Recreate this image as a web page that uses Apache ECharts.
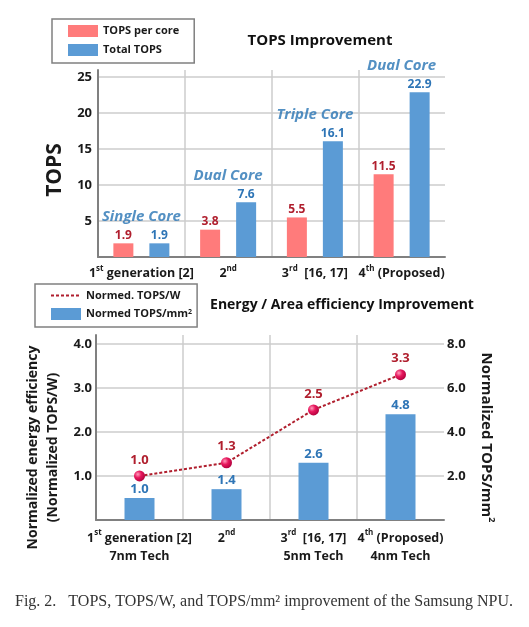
<!DOCTYPE html>
<html><head><meta charset="utf-8">
<script src="https://cdn.jsdelivr.net/npm/echarts@6/dist/echarts.min.js"></script>
<style>html,body{margin:0;padding:0;background:#fff}#c{width:529px;height:627px}</style>
</head><body><div id="c"></div>
<script>
// ---- data ----
const generations = ['1st generation [2]', '2nd', '3rd  [16, 17]', '4th (Proposed)'];
const techNodes = ['7nm Tech', '', '5nm Tech', '4nm Tech'];
const topsPerCore = [1.9, 3.8, 5.5, 11.5];
const totalTops = [1.9, 7.6, 16.1, 22.9];
const coreConfig = ['Single Core', 'Dual Core', 'Triple Core', 'Dual Core'];
const normTopsPerW = [1.0, 1.3, 2.5, 3.3];
const normTopsPerMm2 = [1.0, 1.4, 2.6, 4.8];
const topsAxis = { min: 0, max: 26, interval: 5 };
const effAxis = { min: 0, max: 4.2, interval: 1 };
const areaAxis = { min: 0, max: 8.4, interval: 2 };

// ---- style ----
const FONT = '"Open Sans", "Noto Sans", sans-serif';
const RED = '#ff7b7b', BLUE = '#5b9bd5', RED_T = '#b01f2e', BLUE_T = '#2e75b6';
const GRID = '#cccccc', AXIS = '#808080', TXT = '#1a1a1a';
const supFmt = s => s.replace(/^(\d)(st|nd|rd|th)/, '$1{sup|$2}');
const supRich = { sup: { fontSize: 8, fontWeight: 'bold', color: TXT, verticalAlign: 'top', fontFamily: FONT } };

const chart = echarts.init(document.getElementById('c'));
const vLine = { show: true, interval: 0, showMinLine: false, showMaxLine: false, lineStyle: { color: GRID, width: 1.5 } };
const hLine = { show: true, showMinLine: false, showMaxLine: false, lineStyle: { color: GRID, width: 1.5 } };
const xCommon = {
  type: 'category', data: generations,
  axisLine: { lineStyle: { color: AXIS, width: 2 } },
  axisTick: { show: false },
  splitLine: vLine
};
const yLabel = { fontSize: 13, fontWeight: 'bold', color: TXT, fontFamily: FONT, showMinLabel: false, showMaxLabel: false };

chart.setOption({
  animation: false,
  textStyle: { fontFamily: FONT },
  grid: [
    { left: 98, right: 84, top: 70, bottom: 370 },
    { left: 96, right: 85, top: 335, bottom: 107 }
  ],
  xAxis: [
    Object.assign({}, xCommon, { gridIndex: 0,
      axisLabel: { interval: 0, hideOverlap: false, margin: 8, fontSize: 12.5, fontWeight: 'bold', color: TXT, lineHeight: 16, fontFamily: FONT,
        formatter: v => supFmt(v), rich: supRich } }),
    Object.assign({}, xCommon, { gridIndex: 1,
      axisLabel: { interval: 0, hideOverlap: false, margin: 9, fontSize: 12.5, fontWeight: 'bold', color: TXT, lineHeight: 18, fontFamily: FONT,
        formatter: (v, i) => supFmt(v) + (techNodes[i] ? '\n' + techNodes[i] : ''), rich: supRich } })
  ],
  yAxis: [
    Object.assign({ gridIndex: 0, type: 'value' }, topsAxis, {
      axisLine: { show: true, lineStyle: { color: AXIS, width: 2 } }, axisTick: { show: false },
      axisLabel: Object.assign({ margin: 6 }, yLabel),
      splitLine: hLine,
      name: 'TOPS', nameLocation: 'middle', nameGap: 32,
      nameTextStyle: { fontSize: 21, fontWeight: 'bold', color: TXT, fontFamily: FONT, padding: [0, 13, 0, 0] }
    }),
    Object.assign({ gridIndex: 1, type: 'value' }, effAxis, {
      axisLine: { show: true, lineStyle: { color: AXIS, width: 2 } }, axisTick: { show: false },
      axisLabel: Object.assign({ margin: 4, formatter: v => v.toFixed(1) }, yLabel),
      splitLine: hLine,
      name: 'Normalized energy efficiency\n(Normalized TOPS/W)', nameLocation: 'middle', nameGap: 22,
      nameTextStyle: { fontSize: 14, fontWeight: 'bold', color: TXT, fontFamily: FONT, lineHeight: 20, padding: [0, 40, 0, 0] }
    }),
    Object.assign({ gridIndex: 1, type: 'value', position: 'right' }, areaAxis, {
      axisLine: { show: false }, axisTick: { show: false }, splitLine: { show: false },
      axisLabel: Object.assign({ margin: 3, formatter: v => v.toFixed(1) }, yLabel),
      name: 'Normalized TOPS/mm{sup|2}', nameLocation: 'middle', nameGap: 27, nameRotate: -90,
      nameTextStyle: { fontSize: 15, fontWeight: 'bold', color: TXT, fontFamily: FONT, lineHeight: 20, padding: [0, 0, 0, 20],
        rich: { sup: { fontSize: 9, fontWeight: 'bold', color: TXT, verticalAlign: 'top', lineHeight: 20, fontFamily: FONT } } }
    })
  ],
  legend: [
    { data: [{ name: 'TOPS per core', icon: 'rect' }, { name: 'Total TOPS', icon: 'rect' }],
      orient: 'vertical', left: 52, top: 19, itemWidth: 30, itemHeight: 12, itemGap: 7,
      padding: [6, 15, 7, 16], borderColor: AXIS, borderWidth: 1.5, selectedMode: false,
      textStyle: { fontSize: 11, fontWeight: 'bold', color: TXT, fontFamily: FONT } },
    { data: [{ name: 'Normed. TOPS/W', itemStyle: { opacity: 0 } }, { name: 'Normed TOPS/mm2', icon: 'rect' }],
      orient: 'vertical', left: 35, top: 284, itemWidth: 30, itemHeight: 12, itemGap: 7,
      padding: [6, 5, 7, 15], borderColor: AXIS, borderWidth: 1.5, selectedMode: false,
      formatter: n => n === 'Normed TOPS/mm2' ? 'Normed TOPS/mm{sup|2}' : n,
      textStyle: { fontSize: 11, fontWeight: 'bold', color: TXT, fontFamily: FONT,
        rich: { sup: { fontSize: 7, fontWeight: 'bold', color: TXT, verticalAlign: 'top', fontFamily: FONT } } } }
  ],
  graphic: [
    { type: 'text', x: 320, y: 41, style: { text: 'TOPS Improvement', font: 'bold 15px "Open Sans", sans-serif', fill: '#111', textAlign: 'center', textVerticalAlign: 'middle', align: 'center', verticalAlign: 'middle' } },
    { type: 'text', x: 342, y: 305, style: { text: 'Energy / Area efficiency Improvement', font: 'bold 14px "Open Sans", sans-serif', fill: '#111', textAlign: 'center', textVerticalAlign: 'middle', align: 'center', verticalAlign: 'middle' } },
    { type: 'text', x: 15, y: 602, style: { text: 'Fig. 2.   TOPS, TOPS/W, and TOPS/mm\u00B2 improvement of the Samsung NPU.', font: '16px "Liberation Serif", "DejaVu Serif", serif', fill: '#333', textAlign: 'left', textVerticalAlign: 'middle', align: 'left', verticalAlign: 'middle' } }
  ],
  series: [
    { name: 'TOPS per core', type: 'bar', xAxisIndex: 0, yAxisIndex: 0, data: topsPerCore,
      barWidth: 20, barGap: '80%', itemStyle: { color: RED },
      label: { show: true, position: 'top', distance: 2, color: RED_T, fontSize: 12, fontWeight: 'bold', fontFamily: FONT, formatter: p => p.value.toFixed(1) } },
    { name: 'Total TOPS', type: 'bar', xAxisIndex: 0, yAxisIndex: 0, data: totalTops,
      barWidth: 20, barGap: '80%', itemStyle: { color: BLUE },
      label: { show: true, position: 'top', distance: 2, color: BLUE_T, fontSize: 12, fontWeight: 'bold', fontFamily: FONT, formatter: p => p.value.toFixed(1) } },
    { name: 'Core config', type: 'scatter', xAxisIndex: 0, yAxisIndex: 0, data: totalTops, silent: true,
      symbolSize: 1, itemStyle: { color: 'rgba(0,0,0,0)' }, z: 5,
      label: { show: true, position: 'top', distance: 18, lineHeight: 16, color: '#2874b4', fontSize: 15, fontStyle: 'italic', fontWeight: 'bold', fontFamily: FONT,
        formatter: p => coreConfig[p.dataIndex] } },
    { name: 'Normed TOPS/mm2', type: 'bar', xAxisIndex: 1, yAxisIndex: 2, data: normTopsPerMm2,
      barWidth: 30, itemStyle: { color: BLUE },
      label: { show: true, position: 'top', distance: 2, color: BLUE_T, fontSize: 13, fontWeight: 'bold', fontFamily: FONT, formatter: p => p.value.toFixed(1) } },
    { name: 'Normed. TOPS/W', type: 'line', xAxisIndex: 1, yAxisIndex: 1, data: normTopsPerW, z: 5,
      symbol: 'circle', symbolSize: 11,
      itemStyle: { color: new echarts.graphic.RadialGradient(0.35, 0.35, 0.7, [
        { offset: 0, color: '#ff9cbc' }, { offset: 0.45, color: '#e8185e' }, { offset: 1, color: '#b0003c' }]) },
      lineStyle: { color: RED_T, width: 2, type: [3, 2] },
      label: { show: true, position: 'top', distance: 4, color: RED_T, fontSize: 13, fontWeight: 'bold', fontFamily: FONT, formatter: p => p.value.toFixed(1) } }
  ]
});
</script></body></html>
